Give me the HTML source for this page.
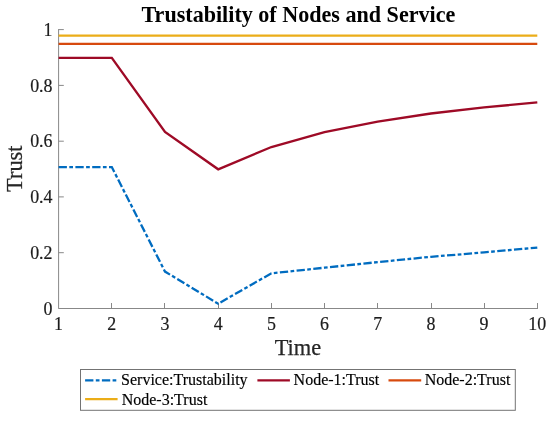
<!DOCTYPE html>
<html><head><meta charset="utf-8"><title>Trustability of Nodes and Service</title>
<style>
html,body{margin:0;padding:0;background:#fff;}
svg{display:block;font-family:"Liberation Serif",serif;}
</style></head><body>
<svg width="550" height="421" viewBox="0 0 550 421">
<rect width="550" height="421" fill="#fff"/>
<g stroke="#888" stroke-width="1" fill="none">
<path d="M58.6 29.1 V308.5 H538"/>
<path d="M111.5 308.5 v-5.5"/>
<path d="M164.5 308.5 v-5.5"/>
<path d="M218.5 308.5 v-5.5"/>
<path d="M271.5 308.5 v-5.5"/>
<path d="M324.5 308.5 v-5.5"/>
<path d="M377.5 308.5 v-5.5"/>
<path d="M431.5 308.5 v-5.5"/>
<path d="M484.5 308.5 v-5.5"/>
<path d="M537.5 308.5 v-5.5"/>
<path d="M58.6 308.5 h5.2"/>
<path d="M58.6 252.7 h5.2"/>
<path d="M58.6 196.9 h5.2"/>
<path d="M58.6 141.2 h5.2"/>
<path d="M58.6 85.4 h5.2"/>
<path d="M58.6 29.6 h5.2"/>
</g>
<g font-size="17.9" fill="#1c1c1c" stroke="#1c1c1c" stroke-width="0.2">
<text x="58.6" y="329.9" text-anchor="middle">1</text>
<text x="111.8" y="329.9" text-anchor="middle">2</text>
<text x="165.0" y="329.9" text-anchor="middle">3</text>
<text x="218.2" y="329.9" text-anchor="middle">4</text>
<text x="271.4" y="329.9" text-anchor="middle">5</text>
<text x="324.5" y="329.9" text-anchor="middle">6</text>
<text x="377.7" y="329.9" text-anchor="middle">7</text>
<text x="430.9" y="329.9" text-anchor="middle">8</text>
<text x="484.1" y="329.9" text-anchor="middle">9</text>
<text x="537.3" y="329.9" text-anchor="middle">10</text>
<text x="52.5" y="314.7" text-anchor="end">0</text>
<text x="52.5" y="258.9" text-anchor="end">0.2</text>
<text x="52.5" y="203.2" text-anchor="end">0.4</text>
<text x="52.5" y="147.4" text-anchor="end">0.6</text>
<text x="52.5" y="91.7" text-anchor="end">0.8</text>
<text x="52.5" y="35.9" text-anchor="end">1</text>
</g>
<text x="297.9" y="354.9" font-size="22.4" stroke="#262626" stroke-width="0.25" text-anchor="middle" fill="#262626">Time</text>
<text transform="translate(22,168.7) rotate(-90)" font-size="22.4" stroke="#262626" stroke-width="0.25" text-anchor="middle" fill="#262626">Trust</text>
<text x="298.4" y="21.6" font-size="22.1" font-weight="bold" text-anchor="middle" fill="#000">Trustability of Nodes and Service</text>
<polyline points="58.6,167.1 111.8,167.1 165.0,271.6 218.2,303.7 271.4,273.3 324.5,267.7 377.7,262.1 430.9,256.8 484.1,252.4 537.3,247.6" fill="none" stroke="#006cc0" stroke-width="2.3" stroke-dasharray="8.3,2.4,3.7,2.4" stroke-linejoin="miter"/>
<polyline points="58.6,57.8 111.8,57.8 165.0,131.9 218.2,169.3 271.4,147.0 324.5,132.2 377.7,121.6 430.9,113.5 484.1,107.4 537.3,102.4" fill="none" stroke="#9e0a26" stroke-width="2.35" stroke-linejoin="miter"/>
<path d="M58.6 43.84 H537.3" stroke="#d74a0e" stroke-width="2.2"/>
<path d="M58.6 35.53 H537.3" stroke="#ebad18" stroke-width="2.2"/>
<rect x="80.5" y="369.5" width="434.8" height="40.8" fill="#fff" stroke="#737373" stroke-width="1"/>
<path d="M85.1 380.4 H117.6" stroke="#006cc0" stroke-width="2.3" stroke-dasharray="8.3,2.4,3.7,2.4"/>
<path d="M257.4 380.4 H289.9" stroke="#9e0a26" stroke-width="2.35"/>
<path d="M388.5 380.4 H421.2" stroke="#d74a0e" stroke-width="2.2"/>
<path d="M85.1 399.2 H117.6" stroke="#ebad18" stroke-width="2.2"/>
<g font-size="16" fill="#000" stroke="#000" stroke-width="0.15">
<text x="121.1" y="385.4">Service:Trustability</text>
<text x="293.6" y="385.4">Node-1:Trust</text>
<text x="424.7" y="385.4">Node-2:Trust</text>
<text x="121.7" y="405">Node-3:Trust</text>
</g>
</svg></body></html>
